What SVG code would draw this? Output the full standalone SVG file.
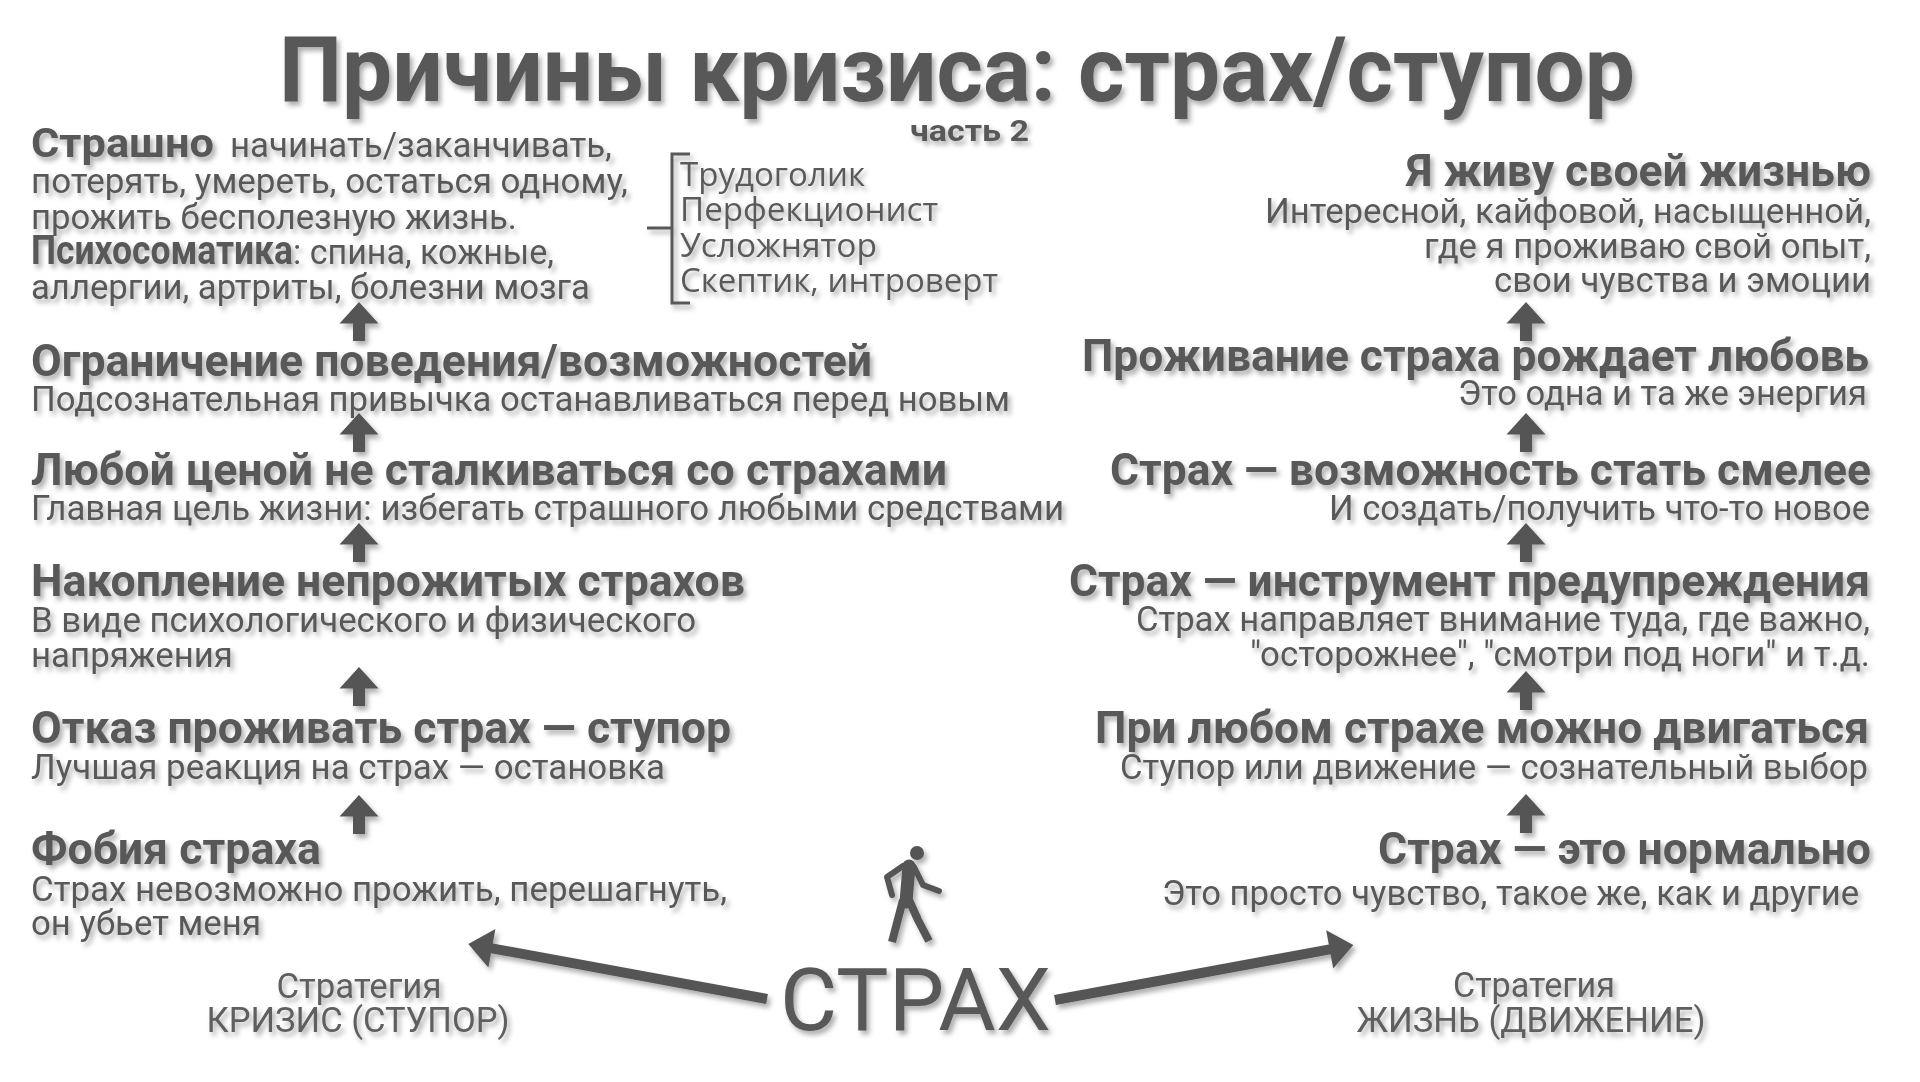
<svg xmlns="http://www.w3.org/2000/svg" xmlns:xlink="http://www.w3.org/1999/xlink" width="1920" height="1082" viewBox="0 0 1920 1082">
<defs>
<style>
text{font-family:Roboto,"Liberation Sans",sans-serif;fill:#595959}
.t{font-size:90px;font-weight:700}
.sub{font-size:29px;font-weight:700}
.h{font-size:44px;font-weight:700}
.b{font-size:35px;font-weight:400}
.bb{font-weight:700;font-size:40px}
.br{font-family:"Open Sans",Roboto,sans-serif;font-size:32px;fill:#5a5a5a}
.big{font-size:88px;font-weight:400}
.s{font-size:35px;font-weight:400;fill:#5e5e5e}
.e{text-anchor:end}
.m{text-anchor:middle}
.arr{fill:#555555}
</style>
<filter id="sh" x="-10%" y="-20%" width="130%" height="160%">
<feDropShadow dx="3" dy="4" stdDeviation="2.5" flood-color="#000" flood-opacity="0.32"/>
</filter>
<path id="up" d="M0,0 L19.5,21.5 L6,21.5 L6,39 L-6,39 L-6,21.5 L-19.5,21.5 Z"/>
</defs>
<rect width="1920" height="1082" fill="#ffffff"/>
<g filter="url(#sh)">
<g id="title">
<text class="t m" x="957" y="101" textLength="1356" lengthAdjust="spacingAndGlyphs">Причины кризиса: страх/ступор</text>
<text class="sub" x="910" y="141" textLength="119" lengthAdjust="spacingAndGlyphs">часть 2</text>
</g>
<g id="node-strashno">
<text class="bb" x="31" y="157" textLength="183" lengthAdjust="spacingAndGlyphs">Страшно</text>
<text class="b" x="230" y="157" textLength="382" lengthAdjust="spacingAndGlyphs">начинать/заканчивать,</text>
<text class="b" x="31" y="193" textLength="597" lengthAdjust="spacingAndGlyphs">потерять, умереть, остаться одному,</text>
<text class="b" x="31" y="229" textLength="486" lengthAdjust="spacingAndGlyphs">прожить бесполезную жизнь.</text>
<text class="bb" x="31" y="264" textLength="262" lengthAdjust="spacingAndGlyphs">Психосоматика</text>
<text class="b" x="293" y="264" textLength="261" lengthAdjust="spacingAndGlyphs">: спина, кожные,</text>
<text class="b" x="31" y="299" textLength="559" lengthAdjust="spacingAndGlyphs">аллергии, артриты, болезни мозга</text>
</g>
<g id="node-types">
<path d="M690,154 H672 V303 H690 M647,228 H672" fill="none" stroke="#595959" stroke-width="3"/>
<text class="br" x="680" y="186" textLength="185" lengthAdjust="spacingAndGlyphs">Трудоголик</text>
<text class="br" x="680" y="221" textLength="258" lengthAdjust="spacingAndGlyphs">Перфекционист</text>
<text class="br" x="680" y="257" textLength="197" lengthAdjust="spacingAndGlyphs">Усложнятор</text>
<text class="br" x="680" y="292" textLength="318" lengthAdjust="spacingAndGlyphs">Скептик, интроверт</text>
</g>
<g id="node-ogranichenie">
<text class="h" x="31" y="376" textLength="841" lengthAdjust="spacingAndGlyphs">Ограничение поведения/возможностей</text>
<text class="b" x="31" y="411" textLength="979" lengthAdjust="spacingAndGlyphs">Подсознательная привычка останавливаться перед новым</text>
</g>
<g id="node-lyuboy">
<text class="h" x="31" y="485" textLength="916" lengthAdjust="spacingAndGlyphs">Любой ценой не сталкиваться со страхами</text>
<text class="b" x="31" y="520" textLength="1033" lengthAdjust="spacingAndGlyphs">Главная цель жизни: избегать страшного любыми средствами</text>
</g>
<g id="node-nakoplenie">
<text class="h" x="31" y="596" textLength="714" lengthAdjust="spacingAndGlyphs">Накопление непрожитых страхов</text>
<text class="b" x="31" y="632" textLength="665" lengthAdjust="spacingAndGlyphs">В виде психологического и физического</text>
<text class="b" x="31" y="667" textLength="202" lengthAdjust="spacingAndGlyphs">напряжения</text>
</g>
<g id="node-otkaz">
<text class="h" x="31" y="743" textLength="700" lengthAdjust="spacingAndGlyphs">Отказ проживать страх — ступор</text>
<text class="b" x="31" y="779" textLength="634" lengthAdjust="spacingAndGlyphs">Лучшая реакция на страх — остановка</text>
</g>
<g id="node-fobiya">
<text class="h" x="31" y="864" textLength="290" lengthAdjust="spacingAndGlyphs">Фобия страха</text>
<text class="b" x="31" y="901" textLength="696" lengthAdjust="spacingAndGlyphs">Страх невозможно прожить, перешагнуть,</text>
<text class="b" x="31" y="935" textLength="230" lengthAdjust="spacingAndGlyphs">он убьет меня</text>
</g>
<g id="node-zhivu">
<text class="h e" x="1871" y="186" textLength="465" lengthAdjust="spacingAndGlyphs">Я живу своей жизнью</text>
<text class="b e" x="1871" y="223" textLength="606" lengthAdjust="spacingAndGlyphs">Интересной, кайфовой, насыщенной,</text>
<text class="b e" x="1871" y="258" textLength="447" lengthAdjust="spacingAndGlyphs">где я проживаю свой опыт,</text>
<text class="b e" x="1871" y="292" textLength="377" lengthAdjust="spacingAndGlyphs">свои чувства и эмоции</text>
</g>
<g id="node-prozhivanie">
<text class="h e" x="1869" y="371" textLength="787" lengthAdjust="spacingAndGlyphs">Проживание страха рождает любовь</text>
<text class="b e" x="1867" y="405" textLength="409" lengthAdjust="spacingAndGlyphs">Это одна и та же энергия</text>
</g>
<g id="node-smelee">
<text class="h e" x="1871" y="485" textLength="761" lengthAdjust="spacingAndGlyphs">Страх — возможность стать смелее</text>
<text class="b e" x="1870" y="520" textLength="541" lengthAdjust="spacingAndGlyphs">И создать/получить что-то новое</text>
</g>
<g id="node-instrument">
<text class="h e" x="1870" y="596" textLength="801" lengthAdjust="spacingAndGlyphs">Страх — инструмент предупреждения</text>
<text class="b e" x="1870" y="631" textLength="734" lengthAdjust="spacingAndGlyphs">Страх направляет внимание туда, где важно,</text>
<text class="b e" x="1870" y="666" textLength="620" lengthAdjust="spacingAndGlyphs">"осторожнее", "смотри под ноги" и т.д.</text>
</g>
<g id="node-dvigatsya">
<text class="h e" x="1869" y="743" textLength="774" lengthAdjust="spacingAndGlyphs">При любом страхе можно двигаться</text>
<text class="b e" x="1868" y="779" textLength="748" lengthAdjust="spacingAndGlyphs">Ступор или движение — сознательный выбор</text>
</g>
<g id="node-normalno">
<text class="h e" x="1871" y="864" textLength="493" lengthAdjust="spacingAndGlyphs">Страх — это нормально</text>
<text class="b e" x="1859" y="905" textLength="697" lengthAdjust="spacingAndGlyphs">Это просто чувство, такое же, как и другие</text>
</g>
<g id="node-strakh">
<text class="big" x="780" y="1030" textLength="271" lengthAdjust="spacingAndGlyphs">СТРАХ</text>
<g id="walker" fill="none" stroke="#555555" stroke-linejoin="round">
<circle cx="917" cy="853" r="7" fill="#555555" stroke="none"/>
<path d="M909,866 L906,902" stroke-width="13" stroke-linecap="round"/>
<path d="M903,866 L887,877 L892,895" stroke-width="6" stroke-linecap="round"/>
<path d="M914,867 L923,885 L939,891" stroke-width="6" stroke-linecap="round"/>
<path d="M903,900 L892,942" stroke-width="8"/>
<path d="M909,900 L918,920 L929,941" stroke-width="8"/>
</g>
</g>
<g id="node-strategy-crisis">
<text class="s m" x="359" y="998" textLength="165" lengthAdjust="spacingAndGlyphs">Стратегия</text>
<text class="s m" x="358" y="1032" textLength="303" lengthAdjust="spacingAndGlyphs">КРИЗИС (СТУПОР)</text>
</g>
<g id="node-strategy-life">
<text class="s m" x="1534" y="997" textLength="162" lengthAdjust="spacingAndGlyphs">Стратегия</text>
<text class="s m" x="1531" y="1032" textLength="349" lengthAdjust="spacingAndGlyphs">ЖИЗНЬ (ДВИЖЕНИЕ)</text>
</g>
<g id="connectors" class="arr">
<use xlink:href="#up" href="#up" x="359" y="302"/>
<use xlink:href="#up" href="#up" x="359" y="413"/>
<use xlink:href="#up" href="#up" x="359" y="523"/>
<use xlink:href="#up" href="#up" x="359" y="667"/>
<use xlink:href="#up" href="#up" x="359" y="795"/>
<use xlink:href="#up" href="#up" x="1526" y="302"/>
<use xlink:href="#up" href="#up" x="1526" y="413"/>
<use xlink:href="#up" href="#up" x="1526" y="523"/>
<use xlink:href="#up" href="#up" x="1526" y="671"/>
<use xlink:href="#up" href="#up" x="1526" y="794"/>
<polygon points="468.3,944 495.4,929.1 492.8,943.4 767.9,994.1 766.1,1003.9 491,953.2 488.4,967.5"/>
<polygon points="1353.3,945 1326.2,930.2 1328.8,944.4 1054.1,995.1 1055.9,1004.9 1330.6,954.3 1333.2,968.5"/>
</g>
</g>
</svg>
